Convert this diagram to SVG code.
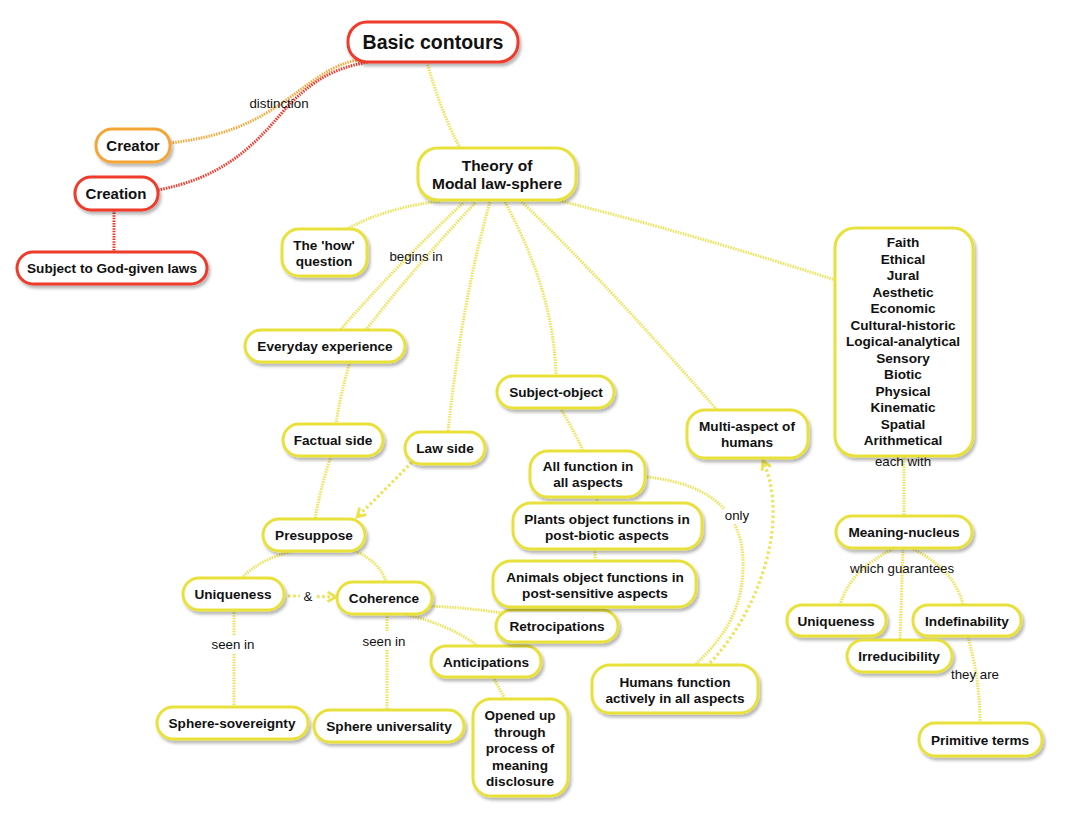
<svg xmlns="http://www.w3.org/2000/svg" width="1071" height="816" viewBox="0 0 1071 816">
<defs>
<filter id="sh" x="-20%" y="-20%" width="140%" height="150%">
<feDropShadow dx="2" dy="3" stdDeviation="1.6" flood-color="#000" flood-opacity="0.28"/>
</filter>
<marker id="ar" viewBox="0 0 10 10" refX="8" refY="5" markerWidth="12" markerHeight="12" markerUnits="userSpaceOnUse" orient="auto">
<path d="M1,1 L8,5 L1,9" fill="none" stroke="#ebe24a" stroke-width="2.2"/>
</marker>
<style>
.n rect{fill:#fff;stroke-width:3;filter:url(#sh)}
.y rect{stroke:#e9e13a}
.r rect{stroke:#ee3a2c}
.o rect{stroke:#f5a534}
.n text{font-family:"Liberation Sans",Arial,sans-serif;font-weight:bold;font-size:13.6px;fill:#111;text-anchor:middle}
.c path{fill:none;stroke:#ece45a;stroke-width:3;stroke-dasharray:1.5 1.1}
.c path.rd{stroke:#ef3b2e}
.c path.or{stroke:#f6aa3c}
.c path.ds{stroke-width:3.2;stroke-dasharray:2.6 2.6}
.c path.ar{stroke-width:3.2;stroke-dasharray:2.6 2.6;marker-end:url(#ar)}
.lb{font-family:"Liberation Sans",Arial,sans-serif;font-size:13.3px;fill:#111;text-anchor:middle}
</style>
</defs>
<rect width="1071" height="816" fill="#fff"/>
<g id="connectors" class="c">
<path class="or" d="M170,143 C240,135 270,112 300,90 S340,64 357,60"/>
<path class="rd" d="M158,190 C220,178 250,150 280,115 S335,68 368,62"/>
<path class="rd" d="M114,210 L114,252"/>
<path d="M427,62 Q440,110 460,148"/>
<path d="M440,201 Q385,208 347,229"/>
<path d="M463,203 Q400,262 340,330"/>
<path d="M475,203 Q412,270 366,330"/>
<path d="M490,202 Q462,300 448,432"/>
<path d="M505,202 Q554,292 556,376"/>
<path d="M520,200 Q615,292 717,410"/>
<path d="M557,200 Q700,236 835,280"/>
<path d="M350,362 Q340,395 336,424"/>
<path d="M331,456 Q320,490 315,519"/>
<path class="ar" d="M412,462 Q385,490 357,517"/>
<path d="M293,551 Q258,560 242,578"/>
<path d="M355,551 Q380,562 386,582"/>
<path class="ds" d="M288,596 L300,596"/>
<path class="ar" d="M317,596.5 L336,597"/>
<path d="M234,610 L234,636"/>
<path d="M234,654 L234,707"/>
<path d="M387,614 L387,632"/>
<path d="M387,650 L387,710"/>
<path d="M431,606 Q470,608 502,613"/>
<path d="M405,614 Q450,625 478,646"/>
<path d="M493,677 L505,699"/>
<path d="M560,408 Q574,430 583,451"/>
<path d="M597,497 L597,503"/>
<path d="M595,549 L595,561"/>
<path d="M647,477 C720,485 745,520 743,570 S715,645 695,665"/>
<path class="ar" d="M710,663 C760,610 790,520 763,461"/>
<path d="M904,456 L904,516"/>
<path d="M893,549 Q850,570 840,605"/>
<path d="M903,549 L900,640"/>
<path d="M913,549 Q955,570 963,605"/>
<path d="M968,637 Q980,680 980,723"/>
</g>
<g id="labels">
<text class="lb" x="279" y="108">distinction</text>
<text class="lb" x="416" y="261">begins in</text>
<text class="lb" x="308" y="601">&amp;</text>
<text class="lb" x="233" y="649">seen in</text>
<text class="lb" x="384" y="646">seen in</text>
<rect x="724" y="508" width="27" height="16" fill="#fff"/>
<text class="lb" x="737" y="520">only</text>
<text class="lb" x="903" y="466">each with</text>
<text class="lb" x="902" y="573">which guarantees</text>
<text class="lb" x="975" y="679">they are</text>
</g>
<g id="basic" class="n r"><rect x="348" y="22" width="170" height="40" rx="19"/><text x="433" y="49" style="font-size:19.5px">Basic contours</text></g>
<g id="creator" class="n o"><rect x="96" y="129" width="74" height="33" rx="16"/><text x="133" y="151" style="font-size:15px">Creator</text></g>
<g id="creation" class="n r"><rect x="75" y="177" width="83" height="33" rx="16"/><text x="116" y="199" style="font-size:15px">Creation</text></g>
<g id="subject-laws" class="n r"><rect x="17" y="252" width="190" height="32" rx="16"/><text x="112" y="273">Subject to God-given laws</text></g>
<g id="theory" class="n y"><rect x="418" y="148" width="158" height="52" rx="20"/><text x="497" y="171" style="font-size:15.5px">Theory of</text><text x="497" y="189" style="font-size:15.5px">Modal law-sphere</text></g>
<g id="how" class="n y"><rect x="282" y="229" width="85" height="47" rx="17"/><text x="324" y="250">The 'how'</text><text x="324" y="266">question</text></g>
<g id="everyday" class="n y"><rect x="245" y="330" width="160" height="32" rx="16"/><text x="325" y="351">Everyday experience</text></g>
<g id="factual" class="n y"><rect x="283" y="424" width="100" height="32" rx="16"/><text x="333" y="445">Factual side</text></g>
<g id="law" class="n y"><rect x="405" y="432" width="80" height="32" rx="16"/><text x="445" y="453">Law side</text></g>
<g id="presuppose" class="n y"><rect x="263" y="519" width="102" height="32" rx="16"/><text x="314" y="540">Presuppose</text></g>
<g id="uniqueness-l" class="n y"><rect x="183" y="578" width="101" height="32" rx="16"/><text x="233" y="599">Uniqueness</text></g>
<g id="coherence" class="n y"><rect x="337" y="582" width="95" height="32" rx="16"/><text x="384" y="603">Coherence</text></g>
<g id="sovereignty" class="n y"><rect x="157" y="707" width="151" height="32" rx="16"/><text x="232" y="728">Sphere-sovereignty</text></g>
<g id="universality" class="n y"><rect x="314" y="710" width="150" height="32" rx="16"/><text x="389" y="731">Sphere universality</text></g>
<g id="anticipations" class="n y"><rect x="431" y="646" width="110" height="31" rx="15"/><text x="486" y="667">Anticipations</text></g>
<g id="retrocipations" class="n y"><rect x="496" y="610" width="122" height="32" rx="16"/><text x="557" y="631">Retrocipations</text></g>
<g id="opened" class="n y"><rect x="473" y="699" width="95" height="97" rx="18"/><text x="520" y="720">Opened up</text><text x="520" y="736.5">through</text><text x="520" y="753">process of</text><text x="520" y="769.5">meaning</text><text x="520" y="786">disclosure</text></g>
<g id="subject-object" class="n y"><rect x="497" y="376" width="117" height="32" rx="16"/><text x="556" y="397">Subject-object</text></g>
<g id="all-function" class="n y"><rect x="530" y="451" width="115" height="46" rx="18"/><text x="588" y="471">All function in</text><text x="588" y="487">all aspects</text></g>
<g id="plants" class="n y"><rect x="513" y="503" width="189" height="46" rx="18"/><text x="607" y="524">Plants object functions in</text><text x="607" y="540">post-biotic aspects</text></g>
<g id="animals" class="n y"><rect x="493" y="561" width="203" height="46" rx="18"/><text x="595" y="582">Animals object functions in</text><text x="595" y="598">post-sensitive aspects</text></g>
<g id="multi" class="n y"><rect x="687" y="410" width="121" height="48" rx="18"/><text x="747" y="431">Multi-aspect of</text><text x="747" y="447">humans</text></g>
<g id="humans" class="n y"><rect x="592" y="665" width="166" height="48" rx="18"/><text x="675" y="687">Humans function</text><text x="675" y="703">actively in all aspects</text></g>
<g id="aspects" class="n y"><rect x="835" y="228" width="138" height="228" rx="20"/>
<text x="903" y="247">Faith</text><text x="903" y="263.5">Ethical</text><text x="903" y="280">Jural</text><text x="903" y="296.5">Aesthetic</text><text x="903" y="313">Economic</text><text x="903" y="329.5">Cultural-historic</text><text x="903" y="346">Logical-analytical</text><text x="903" y="362.5">Sensory</text><text x="903" y="379">Biotic</text><text x="903" y="395.5">Physical</text><text x="903" y="412">Kinematic</text><text x="903" y="428.5">Spatial</text><text x="903" y="445">Arithmetical</text></g>
<g id="meaning" class="n y"><rect x="836" y="516" width="136" height="32" rx="16"/><text x="904" y="537">Meaning-nucleus</text></g>
<g id="uniqueness-r" class="n y"><rect x="787" y="605" width="99" height="31" rx="15"/><text x="836" y="626">Uniqueness</text></g>
<g id="indefinability" class="n y"><rect x="913" y="605" width="108" height="31" rx="15"/><text x="967" y="626">Indefinability</text></g>
<g id="irreducibility" class="n y"><rect x="847" y="640" width="105" height="32" rx="16"/><text x="899" y="661">Irreducibility</text></g>
<g id="primitive" class="n y"><rect x="919" y="723" width="123" height="33" rx="16"/><text x="980" y="745">Primitive terms</text></g>
</svg>
